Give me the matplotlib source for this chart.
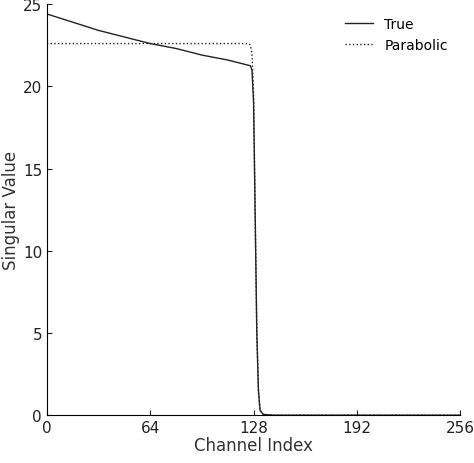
import matplotlib
matplotlib.use('Agg')
from matplotlib import pyplot as plt

# True singular values
true_x = [0, 16, 32, 48, 64, 80, 96, 112, 126, 127, 128, 129, 130, 131, 132, 134, 140, 256]
true_y = [24.4, 23.9, 23.4, 23.0, 22.6, 22.3, 21.9, 21.6, 21.25, 21.0, 19.0, 12.0, 5.0, 1.5, 0.3, 0.05, 0.0, 0.0]

# Parabolic approximation
para_x = [0, 125, 126, 127, 128, 129, 130, 131, 132, 134, 140, 256]
para_y = [22.6, 22.6, 22.5, 22.0, 19.5, 12.0, 5.0, 1.5, 0.3, 0.05, 0.0, 0.0]

fig = plt.figure(figsize=(4.74, 4.64), dpi=100)
ax = fig.add_axes([0.099, 0.103, 0.872, 0.886])
ax.plot(true_x, true_y, color='#222222', lw=1.0, label='True')
ax.plot(para_x, para_y, color='#222222', lw=1.0, ls=':', label='Parabolic')
ax.set_xlim(0, 256)
ax.set_ylim(0, 25)
ax.set_xticks([0, 64, 128, 192, 256])
ax.set_yticks([0, 5, 10, 15, 20, 25])
ax.tick_params(direction='in', labelsize=11, colors='#222222')
for s in ['top', 'right']:
    ax.spines[s].set_visible(False)
ax.set_xlabel('Channel Index', fontsize=12, color='#333333', labelpad=1)
ax.set_ylabel('Singular Value', fontsize=12, color='#333333', labelpad=2)
ax.legend(frameon=False, loc='upper right', fontsize=10)
fig.savefig('out.png')
